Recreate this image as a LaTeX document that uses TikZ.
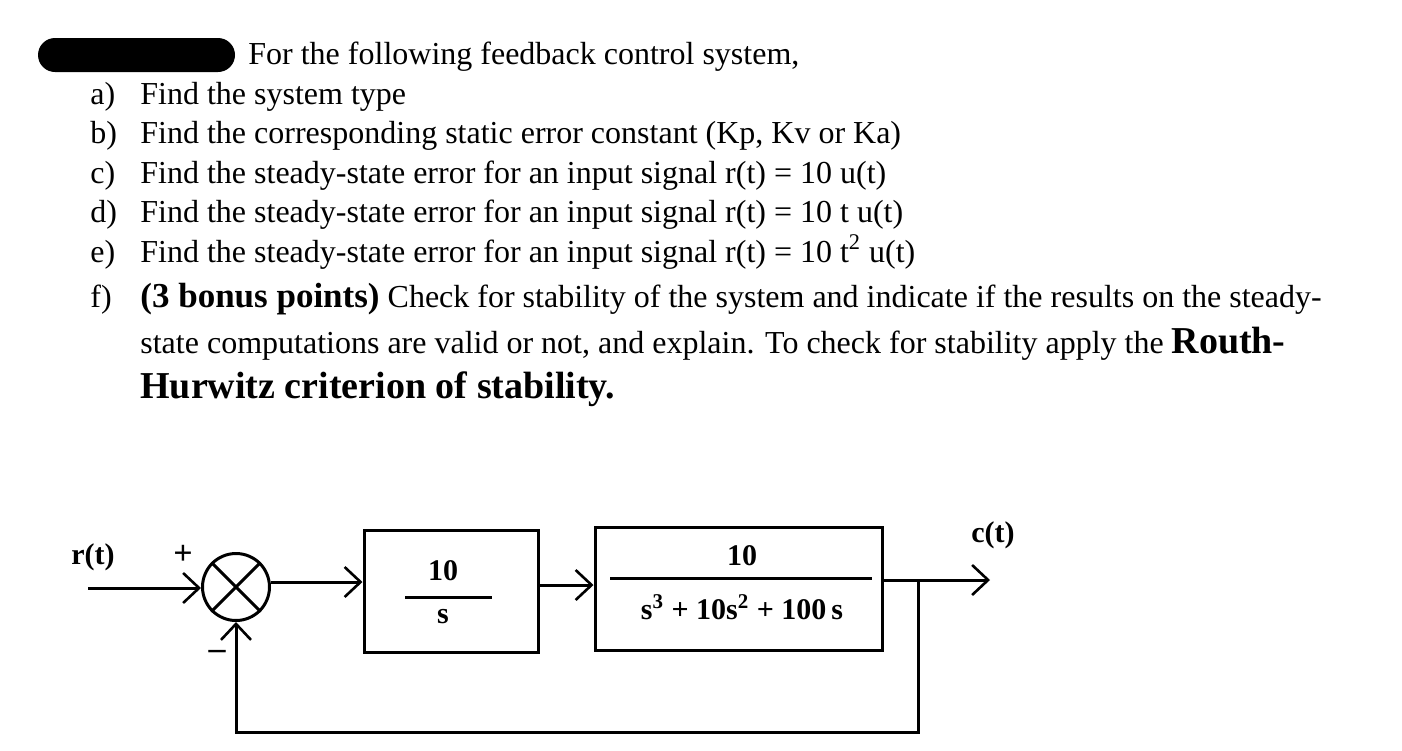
\documentclass[tikz,border=0pt]{standalone}
\usepackage{fontspec}
\setmainfont{Liberation Serif}
\usetikzlibrary{arrows.meta}
\begin{document}
\begin{tikzpicture}[x=0.5pt,y=-0.5pt,
  txt/.style={anchor=base west,inner sep=0pt,font=\fontsize{16}{18}\selectfont},
  bl/.style={draw,line width=1.5pt},
  sig/.style={line width=1.5pt,-{Straight Barb[length=8pt,width=15pt,line width=1.3pt]}},
  lbl/.style={font=\bfseries\fontsize{15}{16}\selectfont,inner sep=0pt}]
\useasboundingbox (0,0) rectangle (1402,750);
\fill[rounded corners=8.5pt] (38,38) rectangle (235,72);
\node[txt] (t0) at (248,64) {For the following feedback control system,};
\foreach \l/\y/\s in {a)/104/Find the system type,
  b)/143/Find the corresponding static error constant (Kp{,} Kv or Ka),
  c)/183/Find the steady-state error for an input signal r(t) = 10 u(t),
  d)/222/Find the steady-state error for an input signal r(t) = 10 t u(t),
  e)/262/Find the steady-state error for an input signal r(t) = 10 t\textsuperscript{2} u(t)}
  {\node[txt] at (90,\y) {\l}; \node[txt] at (140,\y) {\s};}
\node[txt] (f) at (90,307) {f)};
\node[txt] (f1) at (140,307) {{\fontsize{17.5}{18}\selectfont\bfseries (3 bonus points)} Check for stability of the system and indicate if the results on the steady-};
\node[txt] (f2) at (140,353) {state computations are valid or not, and explain. To check for stability apply the {\fontsize{19}{18}\selectfont\bfseries Routh-}};
\node[txt] (f3) at (140,398) {{\fontsize{19}{18}\selectfont\bfseries Hurwitz criterion of stability.}};

% block diagram
\node[draw,circle,line width=1.5pt,minimum size=67pt*0.5,inner sep=0pt] (sum) at (236,587) {};
\draw[line width=1.5pt] (sum.45)--(sum.225) (sum.135)--(sum.315);
\node[lbl] (r) at (93,557) {r(t)};
\node[font=\bfseries\fontsize{17}{16}\selectfont,inner sep=0pt] (plus) at (183,555) {+};
\node[font=\bfseries\fontsize{17}{16}\selectfont,inner sep=0pt] (minus) at (217,655) {\textendash};
\coordinate (rin) at (88,588);
\draw[sig] (rin) -- (sum.west |- rin);
\node[bl,minimum width=87pt,minimum height=61pt] (g1) at (451,591) {};
\node[lbl] (n1) at (443,571) {10};
\draw[line width=1.5pt] (405,597) -- (492,597);
\node[lbl] (d1) at (443,617) {s};
\node[bl,minimum width=143.5pt,minimum height=61.5pt] (g2) at (738.5,589) {};
\node[lbl] (n2) at (742,556) {10};
\draw[line width=1.5pt] (610,578) -- (872,578);
\node[lbl] (d2) at (742,607) {s\textsuperscript{3} + 10s\textsuperscript{2} + 100\,s};
\draw[sig] (sum.east |- 0,582) -- (g1.west |- 0,582);
\draw[sig] (g1.east |- 0,585) -- (g2.west |- 0,585);
\coordinate (out) at (990,580);
\coordinate (br) at (918,732);
\draw[sig] (g2.east |- out) -- (out);
\node[lbl] (c) at (993,535) {c(t)};
\draw[sig] (918,580) -- (br) -- (br -| sum) -- (sum.south);
\end{tikzpicture}
\end{document}
